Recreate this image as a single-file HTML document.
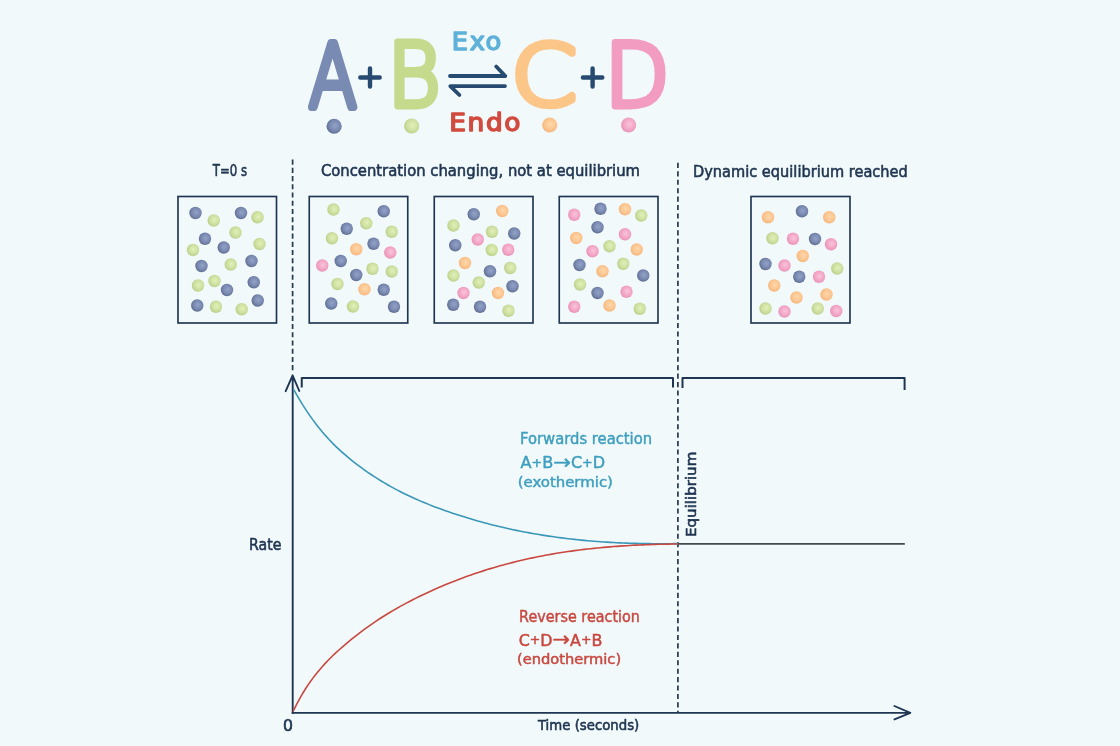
<!DOCTYPE html>
<html><head><meta charset="utf-8"><title>Dynamic equilibrium</title>
<style>html,body{margin:0;padding:0;background:#f1f9fb;}svg{display:block}</style>
</head><body>
<svg width="1120" height="746" viewBox="0 0 1120 746">
<rect x="0" y="0" width="1120" height="746" fill="#f1f9fb"/>
<defs><radialGradient id="gB" cx="0.55" cy="0.45" r="0.6"><stop offset="0" stop-color="#93a3c7"/><stop offset="0.6" stop-color="#7888b0"/><stop offset="1" stop-color="#596889"/></radialGradient><radialGradient id="gG" cx="0.55" cy="0.45" r="0.6"><stop offset="0" stop-color="#e3f0b8"/><stop offset="0.6" stop-color="#cde0a0"/><stop offset="1" stop-color="#b8cc86"/></radialGradient><radialGradient id="gO" cx="0.55" cy="0.45" r="0.6"><stop offset="0" stop-color="#ffd8ab"/><stop offset="0.6" stop-color="#fcc58f"/><stop offset="1" stop-color="#f3b37c"/></radialGradient><radialGradient id="gP" cx="0.55" cy="0.45" r="0.6"><stop offset="0" stop-color="#f9c4db"/><stop offset="0.6" stop-color="#f3a5c6"/><stop offset="1" stop-color="#e492b5"/></radialGradient></defs>
<text transform="translate(309.05,106.71) scale(0.773,0.971)" x="0" y="0" style="font-family:'DejaVu Sans', 'Liberation Sans', sans-serif;font-weight:200;font-size:90px" fill="#7a8bb3" stroke="#7a8bb3" stroke-width="8" stroke-linejoin="round">A</text>
<text transform="translate(387.45,106.10) scale(0.900,0.975)" x="0" y="0" style="font-family:'DejaVu Sans', 'Liberation Sans', sans-serif;font-weight:200;font-size:90px" fill="#c5da8c" stroke="#c5da8c" stroke-width="7" stroke-linejoin="round">B</text>
<text transform="translate(511.09,105.02) scale(1.052,0.936)" x="0" y="0" style="font-family:'DejaVu Sans', 'Liberation Sans', sans-serif;font-weight:200;font-size:90px" fill="#fcc689" stroke="#fcc689" stroke-width="7" stroke-linejoin="round">C</text>
<text transform="translate(604.73,105.80) scale(0.931,0.974)" x="0" y="0" style="font-family:'DejaVu Sans', 'Liberation Sans', sans-serif;font-weight:200;font-size:90px" fill="#f29cc2" stroke="#f29cc2" stroke-width="7" stroke-linejoin="round">D</text>
<path d="M360.3,77.5 H379.7 M370,68.5 V86.5" stroke="#264a70" stroke-width="4.4" stroke-linecap="round" fill="none"/>
<path d="M582.9,77.5 H602.3000000000001 M592.6,68.5 V86.5" stroke="#264a70" stroke-width="4.4" stroke-linecap="round" fill="none"/>
<path d="M450,76 H505.3 L496.2,66.5 M505,86.1 H450.3 L459.4,95" stroke="#264a70" stroke-width="3.8" stroke-linecap="round" stroke-linejoin="round" fill="none"/>
<circle cx="334.1" cy="126.25" r="7.6" fill="url(#gB)"/>
<circle cx="411.65" cy="126" r="7.6" fill="url(#gG)"/>
<circle cx="549.7" cy="125" r="7.6" fill="url(#gO)"/>
<circle cx="628.6" cy="125" r="7.6" fill="url(#gP)"/>
<rect x="178" y="196.5" width="98.5" height="126.5" fill="none" stroke="#1f3653" stroke-width="1.65"/>
<rect x="309.25" y="196.5" width="98.5" height="126.5" fill="none" stroke="#1f3653" stroke-width="1.65"/>
<rect x="434.25" y="196.5" width="98.75" height="126.5" fill="none" stroke="#1f3653" stroke-width="1.65"/>
<rect x="559.25" y="196.5" width="98.75" height="126.5" fill="none" stroke="#1f3653" stroke-width="1.65"/>
<rect x="751" y="196.5" width="99" height="126.5" fill="none" stroke="#1f3653" stroke-width="1.65"/>
<circle cx="195.5" cy="213" r="6.2" fill="url(#gB)"/>
<circle cx="213.75" cy="220.5" r="6.2" fill="url(#gG)"/>
<circle cx="241" cy="213" r="6.2" fill="url(#gB)"/>
<circle cx="257.5" cy="217.25" r="6.2" fill="url(#gG)"/>
<circle cx="235.5" cy="232.5" r="6.2" fill="url(#gG)"/>
<circle cx="205" cy="238.75" r="6.2" fill="url(#gB)"/>
<circle cx="223.75" cy="247.5" r="6.2" fill="url(#gB)"/>
<circle cx="259.5" cy="244" r="6.2" fill="url(#gG)"/>
<circle cx="193" cy="250" r="6.2" fill="url(#gG)"/>
<circle cx="201.5" cy="266" r="6.2" fill="url(#gB)"/>
<circle cx="230.75" cy="264.5" r="6.2" fill="url(#gG)"/>
<circle cx="251.5" cy="261" r="6.2" fill="url(#gB)"/>
<circle cx="198" cy="285.5" r="6.2" fill="url(#gG)"/>
<circle cx="214.5" cy="281" r="6.2" fill="url(#gG)"/>
<circle cx="227" cy="290" r="6.2" fill="url(#gB)"/>
<circle cx="253.75" cy="282.25" r="6.2" fill="url(#gB)"/>
<circle cx="197.25" cy="305.5" r="6.2" fill="url(#gB)"/>
<circle cx="216" cy="306.75" r="6.2" fill="url(#gG)"/>
<circle cx="241.75" cy="309.25" r="6.2" fill="url(#gG)"/>
<circle cx="257.75" cy="300.5" r="6.2" fill="url(#gB)"/>
<circle cx="333.5" cy="209.5" r="6.2" fill="url(#gG)"/>
<circle cx="383.75" cy="211.25" r="6.2" fill="url(#gB)"/>
<circle cx="346.75" cy="228.75" r="6.2" fill="url(#gB)"/>
<circle cx="366.25" cy="223.25" r="6.2" fill="url(#gG)"/>
<circle cx="391.75" cy="231.75" r="6.2" fill="url(#gG)"/>
<circle cx="332" cy="238.25" r="6.2" fill="url(#gG)"/>
<circle cx="356.25" cy="249.25" r="6.2" fill="url(#gO)"/>
<circle cx="373.5" cy="243.75" r="6.2" fill="url(#gB)"/>
<circle cx="390.25" cy="252.5" r="6.2" fill="url(#gP)"/>
<circle cx="322.25" cy="265.5" r="6.2" fill="url(#gP)"/>
<circle cx="340.75" cy="261" r="6.2" fill="url(#gB)"/>
<circle cx="372.5" cy="268.75" r="6.2" fill="url(#gG)"/>
<circle cx="391.75" cy="271.5" r="6.2" fill="url(#gG)"/>
<circle cx="356.25" cy="275" r="6.2" fill="url(#gB)"/>
<circle cx="337.5" cy="284" r="6.2" fill="url(#gG)"/>
<circle cx="364.5" cy="289.25" r="6.2" fill="url(#gO)"/>
<circle cx="383.75" cy="289.75" r="6.2" fill="url(#gB)"/>
<circle cx="331.25" cy="303.5" r="6.2" fill="url(#gB)"/>
<circle cx="353" cy="306.5" r="6.2" fill="url(#gG)"/>
<circle cx="394" cy="306.75" r="6.2" fill="url(#gB)"/>
<circle cx="473.75" cy="214.25" r="6.2" fill="url(#gB)"/>
<circle cx="502.25" cy="211" r="6.2" fill="url(#gO)"/>
<circle cx="453.5" cy="225.5" r="6.2" fill="url(#gG)"/>
<circle cx="492" cy="231.75" r="6.2" fill="url(#gG)"/>
<circle cx="514.25" cy="233.5" r="6.2" fill="url(#gB)"/>
<circle cx="477.75" cy="239.5" r="6.2" fill="url(#gP)"/>
<circle cx="455.25" cy="245.25" r="6.2" fill="url(#gB)"/>
<circle cx="491.75" cy="250" r="6.2" fill="url(#gG)"/>
<circle cx="508.25" cy="249.75" r="6.2" fill="url(#gP)"/>
<circle cx="465" cy="263" r="6.2" fill="url(#gO)"/>
<circle cx="490" cy="271.25" r="6.2" fill="url(#gB)"/>
<circle cx="510.25" cy="268" r="6.2" fill="url(#gG)"/>
<circle cx="453.5" cy="275.5" r="6.2" fill="url(#gG)"/>
<circle cx="478.75" cy="282.5" r="6.2" fill="url(#gG)"/>
<circle cx="463.5" cy="293" r="6.2" fill="url(#gP)"/>
<circle cx="498" cy="293" r="6.2" fill="url(#gO)"/>
<circle cx="512.5" cy="286.25" r="6.2" fill="url(#gB)"/>
<circle cx="453.25" cy="304.75" r="6.2" fill="url(#gB)"/>
<circle cx="480" cy="306.75" r="6.2" fill="url(#gB)"/>
<circle cx="508.5" cy="310.75" r="6.2" fill="url(#gG)"/>
<circle cx="574.25" cy="214.75" r="6.2" fill="url(#gP)"/>
<circle cx="600.5" cy="208.75" r="6.2" fill="url(#gB)"/>
<circle cx="625" cy="209.25" r="6.2" fill="url(#gO)"/>
<circle cx="641.25" cy="215.5" r="6.2" fill="url(#gG)"/>
<circle cx="597.5" cy="227.25" r="6.2" fill="url(#gB)"/>
<circle cx="625" cy="234.25" r="6.2" fill="url(#gP)"/>
<circle cx="576.25" cy="238" r="6.2" fill="url(#gO)"/>
<circle cx="592.5" cy="251.25" r="6.2" fill="url(#gP)"/>
<circle cx="609.5" cy="246.25" r="6.2" fill="url(#gG)"/>
<circle cx="636.75" cy="249.5" r="6.2" fill="url(#gO)"/>
<circle cx="579.5" cy="265" r="6.2" fill="url(#gB)"/>
<circle cx="623.25" cy="263.75" r="6.2" fill="url(#gG)"/>
<circle cx="602.5" cy="271.25" r="6.2" fill="url(#gO)"/>
<circle cx="643.25" cy="275.5" r="6.2" fill="url(#gB)"/>
<circle cx="580" cy="284.5" r="6.2" fill="url(#gG)"/>
<circle cx="597.5" cy="293" r="6.2" fill="url(#gB)"/>
<circle cx="626.5" cy="291.75" r="6.2" fill="url(#gP)"/>
<circle cx="574.25" cy="306.75" r="6.2" fill="url(#gP)"/>
<circle cx="609.5" cy="305.5" r="6.2" fill="url(#gO)"/>
<circle cx="639.75" cy="308.75" r="6.2" fill="url(#gG)"/>
<circle cx="768" cy="217.25" r="6.2" fill="url(#gO)"/>
<circle cx="802" cy="211.25" r="6.2" fill="url(#gB)"/>
<circle cx="829.25" cy="217.25" r="6.2" fill="url(#gO)"/>
<circle cx="772.5" cy="238.25" r="6.2" fill="url(#gG)"/>
<circle cx="793" cy="238.75" r="6.2" fill="url(#gP)"/>
<circle cx="815" cy="239" r="6.2" fill="url(#gB)"/>
<circle cx="831" cy="244.25" r="6.2" fill="url(#gP)"/>
<circle cx="802.75" cy="256" r="6.2" fill="url(#gO)"/>
<circle cx="765.5" cy="264" r="6.2" fill="url(#gB)"/>
<circle cx="784.5" cy="265.5" r="6.2" fill="url(#gP)"/>
<circle cx="837.25" cy="268.5" r="6.2" fill="url(#gG)"/>
<circle cx="799.25" cy="276.75" r="6.2" fill="url(#gB)"/>
<circle cx="819" cy="276.75" r="6.2" fill="url(#gP)"/>
<circle cx="774.25" cy="285.5" r="6.2" fill="url(#gO)"/>
<circle cx="796.5" cy="297.5" r="6.2" fill="url(#gO)"/>
<circle cx="826.5" cy="294.5" r="6.2" fill="url(#gO)"/>
<circle cx="765.5" cy="308.5" r="6.2" fill="url(#gG)"/>
<circle cx="784.5" cy="311.5" r="6.2" fill="url(#gP)"/>
<circle cx="817.75" cy="308.5" r="6.2" fill="url(#gG)"/>
<circle cx="836.25" cy="311" r="6.2" fill="url(#gP)"/>
<path d="M292.6,159.6 V371" stroke="#27384d" stroke-width="1.7" stroke-dasharray="5.1,3.12" fill="none"/>
<path d="M677.9,162.85 V713" stroke="#27384d" stroke-width="1.7" stroke-dasharray="5.1,3.33" fill="none"/>
<path d="M301.75,387.5 V378 H673 V387.5 M682.5,388 V378 H904.6 V390" stroke="#1f3653" stroke-width="2" fill="none" stroke-linejoin="round"/>
<path d="M292.7,713 V376 M285.7,391.2 L292.6,375.3 L299.3,391" stroke="#1f3653" stroke-width="1.9" fill="none" stroke-linecap="round" stroke-linejoin="round"/>
<path d="M292.5,712.9 H910 M894.4,706 L910.3,712.8 L894.5,719.4" stroke="#1f3653" stroke-width="1.9" fill="none" stroke-linecap="round" stroke-linejoin="round"/>
<path d="M293.50,389.05 L296.73,394.84 L299.96,400.35 L303.19,405.60 L306.42,410.59 L309.66,415.35 L312.89,419.88 L316.12,424.19 L319.35,428.29 L322.58,432.19 L325.81,435.91 L329.04,439.46 L332.27,442.84 L335.50,446.07 L338.74,449.16 L341.97,452.12 L345.20,454.96 L348.43,457.69 L351.66,460.32 L354.89,462.86 L358.12,465.33 L361.35,467.73 L364.58,470.06 L367.82,472.32 L371.05,474.51 L374.28,476.64 L377.51,478.70 L380.74,480.71 L383.97,482.65 L387.20,484.54 L390.43,486.37 L393.66,488.14 L396.89,489.87 L400.13,491.54 L403.36,493.17 L406.59,494.74 L409.82,496.28 L413.05,497.77 L416.28,499.21 L419.51,500.62 L422.74,501.99 L425.97,503.33 L429.21,504.63 L432.44,505.89 L435.67,507.13 L438.90,508.34 L442.13,509.52 L445.36,510.67 L448.59,511.80 L451.82,512.91 L455.05,513.99 L458.29,515.05 L461.52,516.09 L464.75,517.10 L467.98,518.09 L471.21,519.06 L474.44,520.01 L477.67,520.93 L480.90,521.84 L484.13,522.72 L487.37,523.58 L490.60,524.42 L493.83,525.23 L497.06,526.03 L500.29,526.81 L503.52,527.56 L506.75,528.30 L509.98,529.01 L513.21,529.71 L516.45,530.38 L519.68,531.04 L522.91,531.68 L526.14,532.29 L529.37,532.89 L532.60,533.47 L535.83,534.04 L539.06,534.58 L542.29,535.11 L545.53,535.61 L548.76,536.10 L551.99,536.58 L555.22,537.03 L558.45,537.47 L561.68,537.89 L564.91,538.30 L568.14,538.69 L571.37,539.06 L574.61,539.42 L577.84,539.76 L581.07,540.08 L584.30,540.39 L587.53,540.69 L590.76,540.97 L593.99,541.23 L597.22,541.48 L600.45,541.72 L603.68,541.94 L606.92,542.15 L610.15,542.34 L613.38,542.52 L616.61,542.69 L619.84,542.84 L623.07,542.99 L626.30,543.11 L629.53,543.23 L632.76,543.33 L636.00,543.42 L639.23,543.50 L642.46,543.57 L645.69,543.62 L648.92,543.67 L652.15,543.70 L655.38,543.72 L658.61,543.73 L661.84,543.74 L665.08,543.73 L668.31,543.71 L671.54,543.68 L674.77,543.64 L678.00,543.59" stroke="#3a97b8" stroke-width="1.6" fill="none"/>
<path d="M293.10,711.43 L296.33,704.90 L299.57,698.84 L302.80,693.22 L306.04,688.01 L309.27,683.16 L312.51,678.63 L315.74,674.40 L318.98,670.41 L322.21,666.66 L325.44,663.11 L328.68,659.74 L331.91,656.52 L335.15,653.45 L338.38,650.48 L341.62,647.60 L344.85,644.79 L348.09,642.06 L351.32,639.39 L354.55,636.80 L357.79,634.27 L361.02,631.81 L364.26,629.41 L367.49,627.07 L370.73,624.79 L373.96,622.57 L377.20,620.40 L380.43,618.29 L383.66,616.24 L386.90,614.23 L390.13,612.27 L393.37,610.36 L396.60,608.49 L399.84,606.67 L403.07,604.89 L406.31,603.15 L409.54,601.45 L412.77,599.78 L416.01,598.15 L419.24,596.55 L422.48,594.98 L425.71,593.44 L428.95,591.93 L432.18,590.46 L435.42,589.01 L438.65,587.59 L441.88,586.20 L445.12,584.84 L448.35,583.50 L451.59,582.20 L454.82,580.92 L458.06,579.67 L461.29,578.45 L464.53,577.25 L467.76,576.08 L470.99,574.94 L474.23,573.82 L477.46,572.73 L480.70,571.67 L483.93,570.63 L487.17,569.61 L490.40,568.62 L493.64,567.65 L496.87,566.71 L500.11,565.79 L503.34,564.90 L506.57,564.03 L509.81,563.18 L513.04,562.36 L516.28,561.55 L519.51,560.77 L522.75,560.02 L525.98,559.28 L529.22,558.56 L532.45,557.87 L535.68,557.20 L538.92,556.55 L542.15,555.91 L545.39,555.30 L548.62,554.71 L551.86,554.13 L555.09,553.58 L558.33,553.05 L561.56,552.53 L564.79,552.03 L568.03,551.55 L571.26,551.09 L574.50,550.64 L577.73,550.22 L580.97,549.81 L584.20,549.41 L587.44,549.04 L590.67,548.67 L593.90,548.33 L597.14,548.00 L600.37,547.68 L603.61,547.38 L606.84,547.10 L610.08,546.83 L613.31,546.57 L616.55,546.33 L619.78,546.10 L623.01,545.89 L626.25,545.68 L629.48,545.50 L632.72,545.32 L635.95,545.15 L639.19,545.00 L642.42,544.86 L645.66,544.73 L648.89,544.61 L652.12,544.50 L655.36,544.41 L658.59,544.32 L661.83,544.24 L665.06,544.18 L668.30,544.12 L671.53,544.07 L674.77,544.03 L678.00,544.00" stroke="#c9483f" stroke-width="1.6" fill="none"/>
<path d="M678,543.9 H904.8" stroke="#43494e" stroke-width="1.6" fill="none"/>
<text transform="translate(212.74,176) scale(0.7447,1)" x="0" y="0" style="font-family:'DejaVu Sans', 'Liberation Sans', sans-serif;font-size:15.8px;font-weight:normal" fill="#1f3450" stroke="#1f3450" stroke-width="0.6" stroke-linejoin="round">T=0 s</text>
<text transform="translate(320.90,176.4) scale(0.9376,1)" x="0" y="0" style="font-family:'DejaVu Sans', 'Liberation Sans', sans-serif;font-size:15.8px;font-weight:normal" fill="#1f3450" stroke="#1f3450" stroke-width="0.6" stroke-linejoin="round">Concentration changing, not at equilibrium</text>
<text transform="translate(692.99,177.1) scale(0.9055,1)" x="0" y="0" style="font-family:'DejaVu Sans', 'Liberation Sans', sans-serif;font-size:16.1px;font-weight:normal" fill="#1f3450" stroke="#1f3450" stroke-width="0.6" stroke-linejoin="round">Dynamic equilibrium reached</text>
<text transform="translate(249.11,549.6) scale(0.8886,1)" x="0" y="0" style="font-family:'DejaVu Sans', 'Liberation Sans', sans-serif;font-size:15.9px;font-weight:normal" fill="#1f3450" stroke="#1f3450" stroke-width="0.6" stroke-linejoin="round">Rate</text>
<text transform="translate(283.10,731) scale(1.0444,1)" x="0" y="0" style="font-family:'DejaVu Sans', 'Liberation Sans', sans-serif;font-size:15px;font-weight:normal" fill="#1f3450" stroke="#1f3450" stroke-width="0.6" stroke-linejoin="round">0</text>
<text transform="translate(537.92,730.2) scale(0.9167,1)" x="0" y="0" style="font-family:'DejaVu Sans', 'Liberation Sans', sans-serif;font-size:14.5px;font-weight:normal" fill="#1f3450" stroke="#1f3450" stroke-width="0.6" stroke-linejoin="round">Time (seconds)</text>
<text transform="translate(520.03,444.4) scale(0.9659,1)" x="0" y="0" style="font-family:'DejaVu Sans', 'Liberation Sans', sans-serif;font-size:15.3px;font-weight:normal" fill="#3f9fbf" stroke="#3f9fbf" stroke-width="0.45" stroke-linejoin="round">Forwards reaction</text>
<text transform="translate(520.50,468.2) scale(1.0582,1)" x="0" y="0" style="font-family:'DejaVu Sans', 'Liberation Sans', sans-serif;font-size:15.2px;font-weight:normal" fill="#3f9fbf" stroke="#3f9fbf" stroke-width="0.45" stroke-linejoin="round">A<tspan font-size="12" dy="-1.2">+</tspan><tspan dy="1.2">B</tspan><tspan font-size="20" dy="0.5">→</tspan><tspan dy="-0.5">C</tspan><tspan font-size="12" dy="-1.2">+</tspan><tspan dy="1.2">D</tspan></text>
<text transform="translate(517.65,487.2) scale(1.0982,1)" x="0" y="0" style="font-family:'DejaVu Sans', 'Liberation Sans', sans-serif;font-size:13.6px;font-weight:normal" fill="#3f9fbf" stroke="#3f9fbf" stroke-width="0.45" stroke-linejoin="round">(exothermic)</text>
<text transform="translate(519.06,622) scale(0.9390,1)" x="0" y="0" style="font-family:'DejaVu Sans', 'Liberation Sans', sans-serif;font-size:15.3px;font-weight:normal" fill="#c9483f" stroke="#c9483f" stroke-width="0.45" stroke-linejoin="round">Reverse reaction</text>
<text transform="translate(518.75,645.5) scale(1.0443,1)" x="0" y="0" style="font-family:'DejaVu Sans', 'Liberation Sans', sans-serif;font-size:15.2px;font-weight:normal" fill="#c9483f" stroke="#c9483f" stroke-width="0.45" stroke-linejoin="round">C<tspan font-size="12" dy="-1.2">+</tspan><tspan dy="1.2">D</tspan><tspan font-size="20" dy="0.5">→</tspan><tspan dy="-0.5">A</tspan><tspan font-size="12" dy="-1.2">+</tspan><tspan dy="1.2">B</tspan></text>
<text transform="translate(516.92,664.2) scale(1.0789,1)" x="0" y="0" style="font-family:'DejaVu Sans', 'Liberation Sans', sans-serif;font-size:13.6px;font-weight:normal" fill="#c9483f" stroke="#c9483f" stroke-width="0.45" stroke-linejoin="round">(endothermic)</text>
<text transform="translate(696.1,536.95) rotate(-90) scale(1.0532,1)" x="0" y="0" style="font-family:'DejaVu Sans', 'Liberation Sans', sans-serif;font-size:14.3px;font-weight:normal" fill="#1f3450" stroke="#1f3450" stroke-width="0.6" stroke-linejoin="round">Equilibrium</text>
<text transform="translate(451.83,50) scale(1.0689,1)" x="0" y="0" style="font-family:'DejaVu Sans', 'Liberation Sans', sans-serif;font-size:24px;font-weight:normal;letter-spacing:1.5px" fill="#5fb1d9" stroke="#5fb1d9" stroke-width="1.4" stroke-linejoin="round">Exo</text>
<text transform="translate(449.20,131.0) scale(1.1016,1)" x="0" y="0" style="font-family:'DejaVu Sans', 'Liberation Sans', sans-serif;font-size:24px;font-weight:normal;letter-spacing:1.5px" fill="#d24b3f" stroke="#d24b3f" stroke-width="1.4" stroke-linejoin="round">Endo</text>
</svg>
</body></html>
